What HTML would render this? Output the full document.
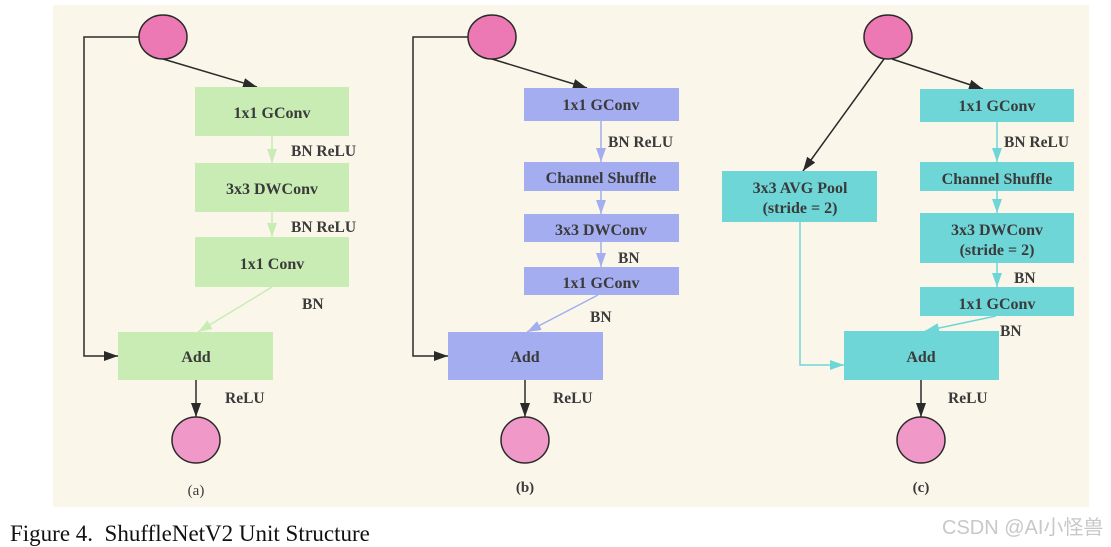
<!DOCTYPE html>
<html><head><meta charset="utf-8"><style>
html,body{margin:0;padding:0;background:#fff;width:1111px;height:547px;overflow:hidden}
svg{display:block}
.t{font-family:"Liberation Serif",serif;font-weight:bold;font-size:16px;fill:#3a3a3a;text-anchor:middle}
.l{font-family:"Liberation Serif",serif;font-weight:bold;font-size:15.5px;fill:#3a3a3a}
.c{font-family:"Liberation Serif",serif;font-size:15px;fill:#3a3a3a;text-anchor:middle}
</style></head><body>
<svg width="1111" height="547" viewBox="0 0 1111 547" xmlns="http://www.w3.org/2000/svg">
<defs>
<marker id="ak" markerWidth="14" markerHeight="10" refX="14" refY="5" orient="auto" markerUnits="userSpaceOnUse"><path d="M0,0 L14,5 L0,10 z" fill="#2a2a2a"/></marker>
<marker id="ag" markerWidth="14" markerHeight="10" refX="14" refY="5" orient="auto" markerUnits="userSpaceOnUse"><path d="M0,0 L14,5 L0,10 z" fill="#c8ecb4"/></marker>
<marker id="ap" markerWidth="14" markerHeight="10" refX="14" refY="5" orient="auto" markerUnits="userSpaceOnUse"><path d="M0,0 L14,5 L0,10 z" fill="#a3adf0"/></marker>
<marker id="ac" markerWidth="14" markerHeight="10" refX="14" refY="5" orient="auto" markerUnits="userSpaceOnUse"><path d="M0,0 L14,5 L0,10 z" fill="#6fd6d8"/></marker>
</defs>
<rect x="53" y="5" width="1036" height="502" fill="#faf7ea"/>

<!-- Panel a -->
<polyline points="139,37 84,37 84,356 118,356" fill="none" stroke="#2a2a2a" stroke-width="1.5" marker-end="url(#ak)"/>
<line x1="163" y1="59" x2="257" y2="87" stroke="#2a2a2a" stroke-width="1.5" marker-end="url(#ak)"/>
<rect x="195" y="87" width="154" height="49" fill="#c8ecb4"/>
<text class="t" x="272" y="118">1x1 GConv</text>
<line x1="272" y1="136" x2="272" y2="163" stroke="#c8ecb4" stroke-width="1.5" marker-end="url(#ag)"/>
<text class="l" x="291" y="156">BN ReLU</text>
<rect x="195" y="163" width="154" height="49" fill="#c8ecb4"/>
<text class="t" x="272" y="194">3x3 DWConv</text>
<line x1="272" y1="212" x2="272" y2="237" stroke="#c8ecb4" stroke-width="1.5" marker-end="url(#ag)"/>
<text class="l" x="291" y="232">BN ReLU</text>
<rect x="195" y="237" width="154" height="50" fill="#c8ecb4"/>
<text class="t" x="272" y="269">1x1 Conv</text>
<line x1="272" y1="287" x2="198" y2="332" stroke="#c8ecb4" stroke-width="1.5" marker-end="url(#ag)"/>
<text class="l" x="302" y="309">BN</text>
<rect x="118" y="332" width="155" height="48" fill="#c8ecb4"/>
<text class="t" x="196" y="362">Add</text>
<line x1="196" y1="380" x2="196" y2="417" stroke="#2a2a2a" stroke-width="1.5" marker-end="url(#ak)"/>
<text class="l" x="225" y="403">ReLU</text>
<ellipse cx="163" cy="37" rx="24" ry="22" fill="#ec78b4" stroke="#2a2a2a" stroke-width="1.5"/>
<ellipse cx="196" cy="440" rx="24" ry="23" fill="#f098c8" stroke="#2a2a2a" stroke-width="1.5"/>
<text class="c" x="196" y="495">(a)</text>

<!-- Panel b -->
<polyline points="468,37 413,37 413,356 448,356" fill="none" stroke="#2a2a2a" stroke-width="1.5" marker-end="url(#ak)"/>
<line x1="492" y1="59" x2="587" y2="88" stroke="#2a2a2a" stroke-width="1.5" marker-end="url(#ak)"/>
<rect x="524" y="88" width="155" height="33" fill="#a3adf0"/>
<text class="t" x="601" y="110">1x1 GConv</text>
<line x1="601" y1="121" x2="601" y2="162" stroke="#a3adf0" stroke-width="1.5" marker-end="url(#ap)"/>
<text class="l" x="608" y="147">BN ReLU</text>
<rect x="524" y="162" width="155" height="29" fill="#a3adf0"/>
<text class="t" x="601" y="183">Channel Shuffle</text>
<line x1="601" y1="191" x2="601" y2="214" stroke="#a3adf0" stroke-width="1.5" marker-end="url(#ap)"/>
<rect x="524" y="214" width="155" height="28" fill="#a3adf0"/>
<text class="t" x="601" y="235">3x3 DWConv</text>
<line x1="601" y1="242" x2="601" y2="267" stroke="#a3adf0" stroke-width="1.5" marker-end="url(#ap)"/>
<text class="l" x="618" y="263">BN</text>
<rect x="524" y="267" width="155" height="28" fill="#a3adf0"/>
<text class="t" x="601" y="288">1x1 GConv</text>
<line x1="598" y1="295" x2="527" y2="332" stroke="#a3adf0" stroke-width="1.5" marker-end="url(#ap)"/>
<text class="l" x="590" y="322">BN</text>
<rect x="448" y="332" width="155" height="48" fill="#a3adf0"/>
<text class="t" x="525" y="362">Add</text>
<line x1="525" y1="380" x2="525" y2="417" stroke="#2a2a2a" stroke-width="1.5" marker-end="url(#ak)"/>
<text class="l" x="553" y="403">ReLU</text>
<ellipse cx="492" cy="37" rx="24" ry="22" fill="#ec78b4" stroke="#2a2a2a" stroke-width="1.5"/>
<ellipse cx="525" cy="440" rx="24" ry="23" fill="#f098c8" stroke="#2a2a2a" stroke-width="1.5"/>
<text class="c" x="525" y="492" style="font-weight:bold">(b)</text>

<!-- Panel c -->
<line x1="884" y1="59" x2="803" y2="171" stroke="#2a2a2a" stroke-width="1.5" marker-end="url(#ak)"/>
<line x1="892" y1="59" x2="983" y2="89" stroke="#2a2a2a" stroke-width="1.5" marker-end="url(#ak)"/>
<rect x="722" y="171" width="155" height="51" fill="#6fd6d8"/>
<text class="t" x="800" y="193">3x3 AVG Pool</text>
<text class="t" x="800" y="213">(stride = 2)</text>
<polyline points="800,222 800,365 844,365" fill="none" stroke="#6fd6d8" stroke-width="1.5" marker-end="url(#ac)"/>
<rect x="920" y="89" width="154" height="33" fill="#6fd6d8"/>
<text class="t" x="997" y="111">1x1 GConv</text>
<line x1="997" y1="122" x2="997" y2="162" stroke="#6fd6d8" stroke-width="1.5" marker-end="url(#ac)"/>
<text class="l" x="1004" y="147">BN ReLU</text>
<rect x="920" y="162" width="154" height="29" fill="#6fd6d8"/>
<text class="t" x="997" y="184">Channel Shuffle</text>
<line x1="997" y1="191" x2="997" y2="213" stroke="#6fd6d8" stroke-width="1.5" marker-end="url(#ac)"/>
<rect x="920" y="213" width="154" height="50" fill="#6fd6d8"/>
<text class="t" x="997" y="235">3x3 DWConv</text>
<text class="t" x="997" y="255">(stride = 2)</text>
<line x1="997" y1="263" x2="997" y2="287" stroke="#6fd6d8" stroke-width="1.5" marker-end="url(#ac)"/>
<text class="l" x="1014" y="283">BN</text>
<rect x="920" y="287" width="154" height="29" fill="#6fd6d8"/>
<text class="t" x="997" y="309">1x1 GConv</text>
<line x1="996" y1="316" x2="925" y2="331" stroke="#6fd6d8" stroke-width="1.5" marker-end="url(#ac)"/>
<text class="l" x="1000" y="336">BN</text>
<rect x="844" y="331" width="155" height="49" fill="#6fd6d8"/>
<text class="t" x="921" y="362">Add</text>
<line x1="921" y1="380" x2="921" y2="417" stroke="#2a2a2a" stroke-width="1.5" marker-end="url(#ak)"/>
<text class="l" x="948" y="403">ReLU</text>
<ellipse cx="888" cy="37" rx="24" ry="22" fill="#ec78b4" stroke="#2a2a2a" stroke-width="1.5"/>
<ellipse cx="921" cy="440" rx="24" ry="23" fill="#f098c8" stroke="#2a2a2a" stroke-width="1.5"/>
<text class="c" x="921" y="492" style="font-weight:bold">(c)</text>

<text x="10" y="541" xml:space="preserve" style="font-family:'Liberation Serif',serif;font-size:23px;fill:#111;white-space:pre">Figure 4.  ShuffleNetV2 Unit Structure</text>
<text x="942" y="534" style="font-family:'Liberation Sans','Noto Sans CJK SC',sans-serif;font-size:20px;fill:#c8c8c8">CSDN @AI小怪兽</text>
</svg>
</body></html>
